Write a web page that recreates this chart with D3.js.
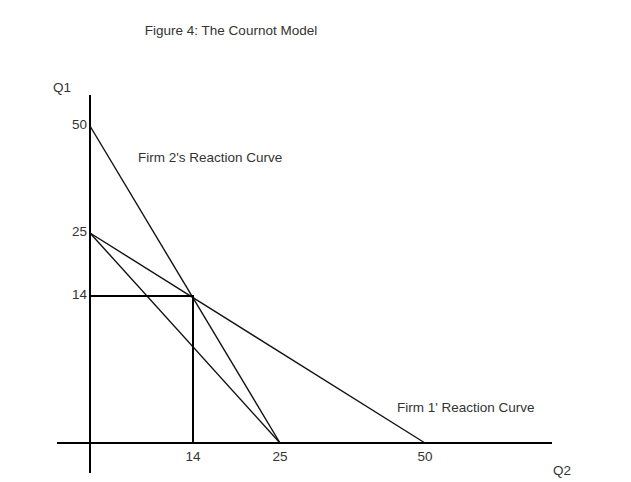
<!DOCTYPE html>
<html>
<head>
<meta charset="utf-8">
<script src="https://cdn.jsdelivr.net/npm/d3@7"></script>
<style>
  body { margin: 0; background: #fff; }
  text { font-family: "Liberation Sans", Arial, sans-serif; fill: #333; font-size: 13.5px; }
</style>
</head>
<body>
<svg id="chart"></svg>
<script>
/*
    Data
*/
// tick values (the figure is schematic, so the scales are piecewise)
var xTicks = [14, 25, 50]
var yTicks = [14, 25, 50]

// reaction curves, from Q1 intercept to Q2 intercept
var firm2Curve = [[0, 50], [25, 0]]
var firm1Curve = [[0, 25], [50, 0]]
var isoLine = [[0, 25], [25, 0]]
// equilibrium guide lines
var equilibrium = [[0, 14], [14, 14], [14, 0]]

var title = "Figure 4: The Cournot Model"
var firm2Label = "Firm 2's Reaction Curve"
var firm1Label = "Firm 1' Reaction Curve"

/*
    Setup
*/
var width = 631
var height = 482

var svg = d3.select("#chart")
    .attr("width", width)
    .attr("height", height)

//Scales
var xScale = d3.scaleLinear()
    .domain([0, 14, 25, 50])
    .range([90, 193, 280, 425])

var yScale = d3.scaleLinear()
    .domain([0, 14, 25, 50])
    .range([443, 296, 233, 126])

var line = d3.line()
    .x(function(d) { return xScale(d[0]) })
    .y(function(d) { return yScale(d[1]) })

// title
svg.append("text")
    .attr("x", 231)
    .attr("y", 35)
    .attr("text-anchor", "middle")
    .text(title)

//Axes (plain lines, the ticks are only labels)
svg.append("line")
    .attr("x1", xScale(0)).attr("x2", xScale(0))
    .attr("y1", 95).attr("y2", 473)
    .attr("stroke", "#000").attr("stroke-width", 2)

svg.append("line")
    .attr("x1", 57).attr("x2", 552)
    .attr("y1", yScale(0)).attr("y2", yScale(0))
    .attr("stroke", "#000").attr("stroke-width", 2)

svg.append("text")
    .attr("x", 53).attr("y", 92)
    .text("Q1")

svg.append("text")
    .attr("x", 553).attr("y", 475)
    .text("Q2")

svg.selectAll(".ytick")
    .data(yTicks)
    .enter().append("text")
    .attr("class", "ytick")
    .attr("x", 87)
    .attr("y", function(d) { return yScale(d) + 3 })
    .attr("text-anchor", "end")
    .text(function(d) { return d })

svg.selectAll(".xtick")
    .data(xTicks)
    .enter().append("text")
    .attr("class", "xtick")
    .attr("x", function(d) { return xScale(d) })
    .attr("y", 461)
    .attr("text-anchor", "middle")
    .text(function(d) { return d })

//Curves
var curves = [firm2Curve, firm1Curve, isoLine]
svg.selectAll(".curve")
    .data(curves)
    .enter().append("path")
    .attr("class", "curve")
    .attr("d", line)
    .attr("fill", "none")
    .attr("stroke", "#111")
    .attr("stroke-width", 1.4)

svg.append("path")
    .attr("d", line(equilibrium))
    .attr("fill", "none")
    .attr("stroke", "#000")
    .attr("stroke-width", 2)

//Curve labels
svg.append("text")
    .attr("x", 138).attr("y", 162)
    .text(firm2Label)

svg.append("text")
    .attr("x", 397).attr("y", 412)
    .text(firm1Label)
</script>
</body>
</html>
